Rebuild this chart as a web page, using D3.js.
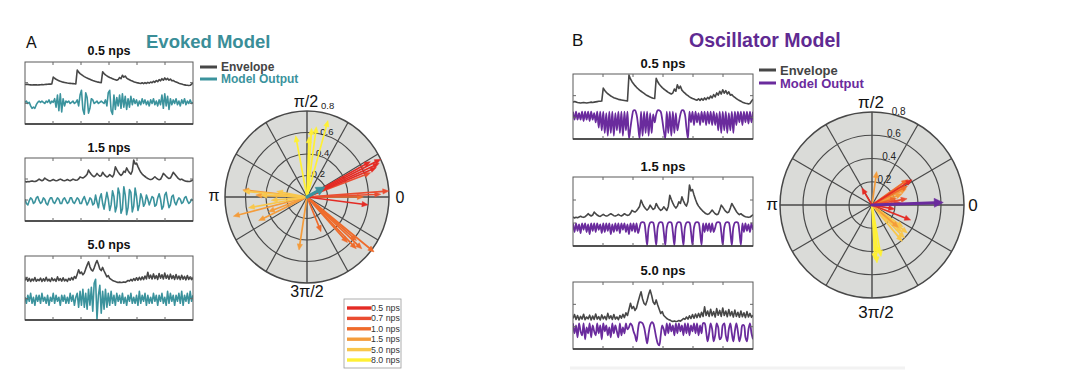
<!DOCTYPE html>
<html><head><meta charset="utf-8">
<script src="https://cdn.jsdelivr.net/npm/d3@7"></script>
<style>
body{margin:0;background:#fff;}
svg{display:block;font-family:"Liberation Sans",Arial,Helvetica,sans-serif;}
</style></head><body>
<svg id="c" width="1080" height="387"></svg>
<script>
// ---------------- DATA ----------------
const rateLabels = ["0.5 nps","0.7 nps","1.0 nps","1.5 nps","5.0 nps","8.0 nps"];
const traceTitles = ["0.5 nps","1.5 nps","5.0 nps"];
const legendItems = ["Envelope","Model Output"];
const panelTitles = ["Evoked Model","Oscillator Model"];
const angleLabels = ["π/2","π","0","3π/2"];
const ringValues = [0.2,0.4,0.6,0.8];

// speech envelopes (shared by both panels)
const envelope05 = [0.3,0.5,0.4,0.2,0.1,0.0,0.1,0.2,0.1,0.0,0.1,0.2,0.3,0.2,0.3,0.4,0.5,0.6,0.6,0.7,
 5.3,4.5,3.8,3.3,2.9,2.5,2.2,1.9,1.7,1.5,1.3,1.2,1.1,1.0,0.9,0.8,0.7,
 10,8.6,7.6,6.9,6.2,5.6,5.1,4.6,4.2,3.8,3.4,3.0,2.7,2.4,2.1,1.9,1.7,1.6,
 8.8,7.6,6.7,6.1,5.5,5.0,4.6,4.2,3.8,3.5,3.2,3.6,5.0,4.2,6.5,5.2,6.0,4.6,
 4.0,3.5,3.0,2.6,2.2,1.9,1.6,1.4,1.2,1.0,1.5,0.9,1.6,1.0,1.8,1.2,2.0,1.5,2.5,1.8,3.0,2.2,3.6,2.8,4.2,3.2,4.7,3.5,4.4,3.2,4.0,2.8,3.0,2.4,2.0,1.6,1.2,0.9,0.6,0.3,0.1,-0.1,-0.2,-0.3,-0.2,0.6,1.4];
const envelope15 = [0.3,0.0,0.2,0.1,0.3,0.5,0.3,0.2,0.4,0.8,1.3,0.9,0.6,0.9,1.8,1.3,0.9,0.6,0.5,0.8,
 1.1,0.8,0.6,0.7,1.0,1.3,1.0,0.7,0.6,0.8,1.1,0.8,0.6,0.9,1.3,1.0,0.8,0.9,1.4,2.3,
 2.0,1.8,2.2,2.8,3.5,5.4,4.3,3.4,2.8,2.4,2.9,3.9,3.2,2.6,2.9,4.4,3.5,2.8,2.3,2.6,
 3.4,2.8,2.3,3.5,6.9,5.6,4.5,3.6,3.0,3.6,4.9,4.4,6.4,5.2,4.2,3.6,5.0,10,8.2,8.6,
 7.0,5.6,4.4,3.6,3.0,2.5,2.0,1.6,1.3,1.1,1.3,1.8,2.4,1.8,1.3,1.0,1.2,2.4,3.9,3.3,
 2.6,2.0,1.6,1.8,3.0,4.4,3.6,2.8,2.0,1.4,1.0,1.3,0.9,0.6,0.4,0.3,0.2,0.3,0.6,1.0];
const envelope50 = [0.5,1.8,0.2,1.5,0.0,1.2,0.3,1.9,0.1,1.0,0.4,1.6,0.0,1.3,0.2,2.0,0.3,1.1,0.0,1.7,
 0.4,1.2,0.1,2.2,0.5,1.4,0.2,1.8,0.3,1.0,0.1,1.5,0.6,1.9,0.8,2.4,1.5,3.5,5.6,3.8,
 4.5,3.2,4.0,6.0,7.8,9.4,7.0,5.5,5.0,6.5,8.5,10,8.2,6.0,5.2,6.7,5.0,3.6,2.2,2.8,
 1.5,1.0,0.5,0.2,0.0,-0.3,-0.5,-0.3,-0.5,-0.4,-0.2,-0.4,0.0,0.5,0.2,1.0,0.3,1.4,0.5,1.8,
 0.6,2.0,0.8,2.2,0.9,2.6,1.2,4.4,1.5,3.0,1.2,3.6,1.4,2.8,1.0,3.8,1.6,3.2,1.2,4.0,
 1.5,3.0,1.1,3.5,1.4,2.8,1.0,3.3,1.2,2.6,0.9,3.0,1.1,2.4,0.8,2.8,1.0,2.2,0.9,1.6];

// evoked model outputs
const evoked05 = [0,1,-1,0,-3,-5,-4,-5,-2,0,1,0,1,0,-1,1,0,2,-1,1,0,3,-4,6,-7,7,-8,3,-3,1,
 0,1,-1,0,1,-1,0,2,-3,6,10,-6,-10,8,4,-9,-5,3,2,-1,0,1,-1,0,1,0,-1,2,-3,8,
 10,-7,-10,6,-6,4,-3,6,-5,7,-4,5,-6,3,-4,5,-2,3,-1,2,-3,1,-2,3,-1,2,-2,1,-3,2,
 -1,3,-2,1,-3,2,-2,6,-5,7,-3,5,-6,3,-2,2,-1,3,-2,1,-3,2,-1,3,-2,1,-1,2,-1,0];
const evoked15 = [1,-2,-3,0,2,1,-2,-1,2,3,0,-2,-1,2,1,-2,-3,0,2,2,-1,-2,0,2,1,-2,-2,1,2,0,
 -2,-1,2,2,-1,-2,0,2,1,-2,-2,1,3,0,-3,-1,2,1,-3,-2,4,-1,-5,2,5,-2,-6,0,6,1,
 -7,-3,7,3,-8,-4,9,5,-9,-6,10,4,-10,-5,8,6,-8,-4,9,3,-7,-3,5,2,-4,-2,4,1,-3,0,
 3,2,-4,-3,2,5,1,-6,-4,4,6,0,-5,-3,3,4,-1,-3,0,2,1,-2,-1,2,3,0,-2,-1,1,0];
const evoked50 = [1,-2,2,-1,3,-2,1,-3,2,-1,2,-2,3,-1,1,-2,2,-3,1,-1,3,-2,2,-1,1,-3,2,-1,2,-2,
 1,-2,3,-1,2,-3,1,3,-4,4,-3,5,-4,3,-5,5,-3,6,-6,8,10,-10,2,7,-7,4,-5,5,-4,3,
 -3,4,-2,2,-3,3,-1,2,-2,3,-2,1,-3,2,-1,3,-2,1,-2,2,-3,4,-2,2,-1,3,-3,2,-2,1,
 -2,3,-1,2,-3,2,-1,3,-2,1,-3,4,-2,3,-1,2,-3,2,-1,3,-2,4,-3,2,-1,3,-2,4,-1,2];

// oscillator model outputs (0 = crest, negative = downward)
const osc05 = [0,-3,0,-3,-0.5,-3,0,-3.5,0,-3,0,-3.5,0,-3,-0.5,-4,0,
 -6,0,-7,0,-8,-0.5,-9,0,-8,0,-9,-0.5,-7,0,-8,0,-9,0,-7,0,
 -10,-6,-2,0.5,0.5,-1,-5,-10,
 0,-9,0,-8,0,-9,-0.5,-8,-1,
 -4,-1,0.5,0.5,0,-3,-7,-10,
 0,-8,0,-9,0,-8,-0.5,-7,
 -4,-1,0.5,0.5,-1,-6,-10,
 0,-4,0,-5,0,-4,-0.5,-5,0,-4,0,-5,0,-4.5,0,-5,0,-5,-0.5,
 -7,0,-8,0,-7,0,-8,-0.5,-7,0,-8,0,
 -5,0,-4,0,-5,0,-4,0,-4.5,0,-4,0];
const osc15 = [0,-4,0,-3.5,-0.5,-4.5,0,-3,0,-4,-0.5,-5,0,-3.5,0,-4,0,-3,-0.5,-4.5,0,-4,0,-3.5,0,-5,-0.5,-4,0,-3.5,0,-4.5,0,-3,0,-4,-0.5,-5,0,-3.5,0,-4,0,-4.5,
 -2,0.3,0.5,0.3,-4,-10, -2,0.3,0.5,0.3,-4,-10, -2,0.3,0.5,0.3,-4,-10, -2,0.3,0.5,0.3,-4,-10,
 -2,0.3,0.5,0.3,-4,-10, -2,0.3,0.5,0.3,-4,-10, -2,0.3,0.5,0.3,-4,-10,
 0,-4,0,-3.5,0,-4,0,-4,
 -2,0.3,0.5,0.3,-4,-10, -2,0.3,0.5,0.3,-4,-10, -2,0.3,0.5,0.3,-4,-10,
 0,-4,0,-3.5,-0.5,-4,0,-3];
const osc50 = [0,-5,-1,-7,0,-4,-6,0,-8,-2,-5,0,-7,-1,-4,-6,0,-5,-1,-8,0,-4,-1,-6,-2,-7,0,-5,-1,-4,-7,0,-6,-2,-5,0,-3,
 -2,0,-1,-4,-6,
 -9,-3,0.5,0.5,0,-2,-6,-10,-5,-1,
 0.5,0,-3,-7,-10,
 -11,-6,-1,-3,-6,
 0,-5,0,-4,-1,-6,0,-5,0,-4,-1,-6,0,-5,0,-6,-1,-4,0,-5,0,-6,-1,-5,0,
 0,-4,-9,-5,0,-3,-9,-6,0,-2,-8,-7,-1,0,-6,-9,-3,0,-5,-9,-4,0,-4,-9,-6,-1,-1,-7,-9,-3,0,-5,-8];

// phase vectors (angle in degrees, magnitude, rate index into rateLabels)
const evokedAng  = [-166,-155,174,-99,-160,178, 178,-175,170,-170,175, -38,-42,-45,-40,-47,-67,0, 4,2,20, 26,24,22,28,-7, 82,86,74,101,88];
const evokedMag  = [0.74,0.52,0.63,0.50,0.40,0.50, 0.45,0.35,0.30,0.58,0.62, 0.83,0.72,0.68,0.63,0.58,0.35,0.55, 0.80,0.72,0.66, 0.80,0.77,0.73,0.70,0.60, 0.66,0.64,0.74,0.58,0.56];
const evokedRate = [3,3,3,3,3,3, 4,4,4,4,4, 2,2,2,2,2,2,2, 1,1,1, 0,0,0,0,0, 5,5,5,5,5];
const evokedMean = [28,0.20];

const oscAng  = [-85,-87,-80,-83, -38,-45,-50,-42,-35, 82,30,25,20,-40, 28,15,35, 10,5, -21,32,121,-10];
const oscMag  = [0.50,0.47,0.45,0.42, 0.39,0.40,0.41,0.35,0.33, 0.29,0.30,0.33,0.28,0.30, 0.35,0.22,0.38, 0.31,0.25, 0.36,0.41,0.17,0.20];
const oscRate = [5,5,5,5, 4,4,4,4,4, 3,3,3,3,3, 2,2,2, 1,1, 0,0,0,0];
const oscMean = [2,0.62];

// ---------------- STYLE / LAYOUT ----------------
const rateColors = ["#e42b24","#ea4d31","#ef6b2b","#f49c3b","#f8c74c","#fff034"];
const teal = "#3b939d", purple = "#6a2b9d", envCol = "#474747";
const svg = d3.select("#c");
const defs = svg.append("defs");
let clipN = 0;

function drawTrace(b, env, out, outColor, isOsc, title) {
  const x = d3.scaleLinear().domain([0, env.length - 1]).range([b.x0, b.x1]);
  const yE = d3.scaleLinear().domain([0, 10]).range([b.eB, b.eB - 10 * b.eP]);
  const yO = isOsc
    ? d3.scaleLinear().domain([-10, 0]).range([b.oB + 10 * b.oP, b.oB])
    : d3.scaleLinear().domain([-10, 10]).range([b.oB + 10 * b.oP, b.oB - 10 * b.oP]);
  const id = "clp" + (clipN++);
  defs.append("clipPath").attr("id", id).append("rect")
    .attr("x", b.x0).attr("y", b.y0).attr("width", b.x1 - b.x0).attr("height", b.y1 - b.y0);
  const g = svg.append("g").attr("clip-path", `url(#${id})`);
  g.append("path").datum(out)
    .attr("d", d3.line().x((d, i) => x(i)).y(d => yO(d)).curve(isOsc ? d3.curveCatmullRom.alpha(0.5) : d3.curveLinear))
    .attr("fill", "none").attr("stroke", outColor).attr("stroke-width", isOsc ? 1.8 : 1.6).attr("stroke-linejoin", "round");
  g.append("path").datum(env)
    .attr("d", d3.line().x((d, i) => x(i)).y(d => yE(d)))
    .attr("fill", "none").attr("stroke", envCol).attr("stroke-width", 1.6).attr("stroke-linejoin", "round");
  // frame and ticks
  svg.append("rect").attr("x", b.x0).attr("y", b.y0).attr("width", b.x1 - b.x0).attr("height", b.y1 - b.y0)
    .attr("fill", "none").attr("stroke", "#5a5a5a").attr("stroke-width", 1);
  svg.append("line").attr("x1", b.x0).attr("x2", b.x1).attr("y1", b.y1).attr("y2", b.y1)
    .attr("stroke", "#333").attr("stroke-width", 1.5);
  const tx = d3.range(1, 6).map(k => b.x0 + k * (b.x1 - b.x0) / 6);
  tx.forEach(t => {
    svg.append("line").attr("x1", t).attr("x2", t).attr("y1", b.y0).attr("y2", b.y0 + 3).attr("stroke", "#666");
    svg.append("line").attr("x1", t).attr("x2", t).attr("y1", b.y1).attr("y2", b.y1 - 3).attr("stroke", "#666");
  });
  [1, 2].forEach(k => {
    const ty = b.y0 + k * (b.y1 - b.y0) / 3;
    svg.append("line").attr("x1", b.x0).attr("x2", b.x0 + 3).attr("y1", ty).attr("y2", ty).attr("stroke", "#666");
    svg.append("line").attr("x1", b.x1).attr("x2", b.x1 - 3).attr("y1", ty).attr("y2", ty).attr("stroke", "#666");
  });
  svg.append("text").attr("x", (b.x0 + b.x1) / 2).attr("y", b.tY).attr("text-anchor", "middle")
    .attr("font-size", b.tF).attr("font-weight", "bold").attr("fill", "#111").text(title);
}

const boxesA = [
  {x0:25,x1:193,y0:62,y1:124,eB:85,eP:1.5,oB:102.3,oP:1.2,tY:55,tF:12.5},
  {x0:25,x1:193,y0:158,y1:221,eB:182,eP:2.2,oB:200.7,oP:1.4,tY:152,tF:12.5},
  {x0:25,x1:193,y0:256,y1:320,eB:281.5,eP:2.1,oB:299.3,oP:2.0,tY:249,tF:12.5}
];
const boxesB = [
  {x0:573,x1:753,y0:74,y1:139,eB:103,eP:2.8,oB:111.7,oP:2.67,tY:68,tF:13},
  {x0:573,x1:753,y0:177,y1:246,eB:218,eP:3.3,oB:223.3,oP:2.17,tY:171,tF:13},
  {x0:573,x1:753,y0:282,y1:349,eB:320,eP:3.0,oB:323.3,oP:2.0,tY:275,tF:13}
];
const envs = [envelope05, envelope15, envelope50];
const evs = [evoked05, evoked15, evoked50];
const oscs = [osc05, osc15, osc50];
boxesA.forEach((b, i) => drawTrace(b, envs[i], evs[i], teal, false, traceTitles[i]));
boxesB.forEach((b, i) => drawTrace(b, envs[i], oscs[i], purple, true, traceTitles[i]));

// panel letters and titles
svg.append("text").attr("x", 26).attr("y", 48).attr("font-size", 16).attr("fill", "#111").text("A");
svg.append("text").attr("x", 572).attr("y", 46).attr("font-size", 17).attr("fill", "#111").text("B");
svg.append("text").attr("x", 146).attr("y", 48).attr("font-size", 18.5).attr("font-weight", "bold").attr("fill", "#3a8e98").text(panelTitles[0]);
svg.append("text").attr("x", 689).attr("y", 47).attr("font-size", 19.5).attr("font-weight", "bold").attr("fill", "#5f2a92").text(panelTitles[1]);

// trace legends
function traceLegend(x, y, step, fs, outColor) {
  [envCol, outColor].forEach((c, i) => {
    const yy = y + i * step;
    svg.append("line").attr("x1", x).attr("x2", x + 17).attr("y1", yy).attr("y2", yy).attr("stroke", c).attr("stroke-width", 3);
    svg.append("text").attr("x", x + 21).attr("y", yy + fs * 0.36).attr("font-size", fs).attr("font-weight", "bold")
      .attr("fill", i === 0 ? "#444" : outColor).text(legendItems[i]);
  });
}
traceLegend(200, 67, 12, 12, teal);
traceLegend(759, 70, 13, 13, purple);

// polar plots
function polarPlot(p, ang, mag, rate, mean, meanColor) {
  const rX = d3.scaleLinear().domain([0, 0.8]).range([0, p.rx]);
  const rY = d3.scaleLinear().domain([0, 0.8]).range([0, p.ry]);
  const pt = (a, m) => [p.cx + rX(m) * Math.cos(a * Math.PI / 180), p.cy - rY(m) * Math.sin(a * Math.PI / 180)];
  const g = svg.append("g");
  g.append("ellipse").attr("cx", p.cx).attr("cy", p.cy).attr("rx", rX(0.8)).attr("ry", rY(0.8))
    .attr("fill", "#dadbd8").attr("stroke", "none");
  d3.range(0, 180, 30).forEach(a => {
    const p1 = pt(a, 0.8), p2 = pt(a + 180, 0.8);
    g.append("line").attr("x1", p1[0]).attr("y1", p1[1]).attr("x2", p2[0]).attr("y2", p2[1])
      .attr("stroke", "#484848").attr("stroke-width", a % 90 === 0 ? 1.4 : 1.2);
  });
  ringValues.forEach(r => {
    g.append("ellipse").attr("cx", p.cx).attr("cy", p.cy).attr("rx", rX(r)).attr("ry", rY(r))
      .attr("fill", "none").attr("stroke", "#484848").attr("stroke-width", r === 0.8 ? 1.5 : 1.2);
  });
  // ring labels
  ringValues.forEach(r => {
    if (p.skip08 && r === 0.8) return;
    const q = pt(p.labAng, r + 0.025);
    g.append("text").attr("x", q[0]).attr("y", q[1]).attr("dy", "0.35em").attr("font-size", p.rf)
      .attr("fill", "#222").text(r.toFixed(1));
  });
  function arrow(a, m, color, w, hl, hw) {
    const [tx, ty] = pt(a, m);
    const dx = tx - p.cx, dy = ty - p.cy, L = Math.hypot(dx, dy) || 1;
    const ux = dx / L, uy = dy / L, nx = -uy, ny = ux;
    const bx = tx - ux * hl, by = ty - uy * hl;
    g.append("line").attr("x1", p.cx).attr("y1", p.cy).attr("x2", bx + ux * 1).attr("y2", by + uy * 1)
      .attr("stroke", color).attr("stroke-width", w).attr("stroke-linecap", "round");
    g.append("path").attr("d", `M${tx},${ty}L${bx + nx * hw},${by + ny * hw}L${bx - nx * hw},${by - ny * hw}Z`)
      .attr("fill", color).attr("stroke", color).attr("stroke-width", 0.5).attr("stroke-linejoin", "round");
  }
  ang.forEach((a, i) => arrow(a, mag[i], rateColors[rate[i]], 1.7, 6, 2.6));
  arrow(mean[0], mean[1], meanColor, 3.2, 9, 4.5);
  // angle labels
  const L = p.lab;
  svg.append("text").attr("x", L.top[0]).attr("y", L.top[1]).attr("text-anchor", "middle").attr("font-size", p.af).attr("fill", "#111").text(angleLabels[0]);
  svg.append("text").attr("x", L.left[0]).attr("y", L.left[1]).attr("text-anchor", "middle").attr("font-size", p.af).attr("fill", "#111").text(angleLabels[1]);
  svg.append("text").attr("x", L.right[0]).attr("y", L.right[1]).attr("text-anchor", "middle").attr("font-size", p.af).attr("fill", "#111").text(angleLabels[2]);
  svg.append("text").attr("x", L.bot[0]).attr("y", L.bot[1]).attr("text-anchor", "middle").attr("font-size", p.af).attr("fill", "#111").text(angleLabels[3]);
  if (p.skip08) {
    svg.append("text").attr("x", L.sub[0]).attr("y", L.sub[1]).attr("font-size", p.rf).attr("fill", "#222").text(ringValues[3].toFixed(1));
  }
}

polarPlot({cx:307, cy:197, rx:82, ry:86, labAng:78, rf:9.5, af:16, skip08:true,
  lab:{top:[306,107], left:[214,201], right:[400,203], bot:[307,297], sub:[321,109]}},
  evokedAng, evokedMag, evokedRate, evokedMean, teal);
polarPlot({cx:872, cy:205, rx:92, ry:93, labAng:78, rf:10, af:17, skip08:false,
  lab:{top:[871,108], left:[772,210], right:[973,211], bot:[876,318]}},
  oscAng, oscMag, oscRate, oscMean, purple);

// rate legend
const lg = svg.append("g");
lg.append("rect").attr("x", 344).attr("y", 299).attr("width", 57).attr("height", 69)
  .attr("fill", "#fff").attr("stroke", "#9a9a9a").attr("stroke-width", 0.8);
rateLabels.forEach((t, i) => {
  const yy = 308 + i * 10.4;
  lg.append("line").attr("x1", 347).attr("x2", 371).attr("y1", yy).attr("y2", yy).attr("stroke", rateColors[i]).attr("stroke-width", 3.4);
  lg.append("text").attr("x", 371).attr("y", yy + 3).attr("font-size", 8.8).attr("fill", "#333").text(t);
});

// faint scan line under panel B
svg.append("line").attr("x1", 570).attr("x2", 905).attr("y1", 368).attr("y2", 368).attr("stroke", "#f2f2f2").attr("stroke-width", 3);
</script></body></html>
